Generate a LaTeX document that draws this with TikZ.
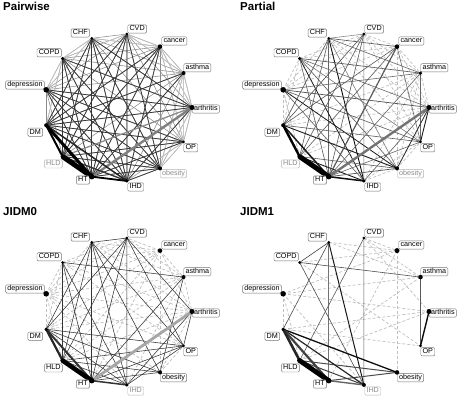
\documentclass[tikz,border=0pt]{standalone}
\usepackage{fontspec}
\setmainfont{Liberation Sans}
\usepackage{tikz}
\usetikzlibrary{calc}

\tikzset{
  dot/.style={circle, fill=black, inner sep=0pt, minimum size=#1},
  lab/.style={draw=black!55, line width=0.45pt, rounded corners=1.2pt, fill=white, font=\fontsize{7.2}{8}\selectfont, inner xsep=1.8pt, inner ysep=0.8pt, text height=5.2pt, text depth=1.4pt},
  labgray/.style={draw=black!30, text=black!45},
  ttl/.style={font=\fontsize{11.5}{13}\selectfont\bfseries, anchor=base west, inner sep=0pt},
  lnk/.style 2 args={draw=black!#1, line width=#2pt},
  neglink/.style={draw=black!25, line width=0.7pt, dash pattern=on 3pt off 2pt},
  % where each label sits next to its dot (same in all panels)
  l-art/.style={anchor=west, yshift=-1.5pt},
  l-ast/.style={anchor=south west, yshift=1pt},
  l-can/.style={anchor=south west, xshift=1.5pt, yshift=1.3pt},
  l-cvd/.style={anchor=south west, xshift=0.6pt, yshift=0.7pt},
  l-chf/.style={anchor=south east, xshift=-2pt, yshift=1pt},
  l-copd/.style={anchor=south east, xshift=-1pt, yshift=1.3pt},
  l-dep/.style={anchor=south east, xshift=-1.5pt, yshift=0.5pt},
  l-dm/.style={anchor=north east, xshift=-3.3pt, yshift=-2.7pt},
  l-hld/.style={anchor=north east, yshift=-3pt},
  l-ht/.style={anchor=north east, xshift=-2pt, yshift=1pt},
  l-ihd/.style={anchor=north west, xshift=0.6pt, yshift=-1.7pt},
  l-obe/.style={anchor=north west, yshift=-1pt},
  l-op/.style={anchor=north west, yshift=-1.6pt},
  % faded labels
  pw-hld/.style={labgray}, pw-obe/.style={labgray},
  pa-hld/.style={labgray}, pa-obe/.style={labgray},
  j0-ihd/.style={labgray}, j1-ihd/.style={labgray},
}

\begin{document}
\begin{tikzpicture}[x=1pt, y=1pt]
\useasboundingbox (0,0) rectangle (474,402);
% Panel titles
\node[ttl] (t-pw) at (3,391.3) {Pairwise};
\node[ttl] (t-pa) at (240,391.3) {Partial};
\node[ttl] (t-j0) at (3,186) {JIDM0};
\node[ttl] (t-j1) at (240,186) {JIDM1};
% Positions on the circle
\foreach \p/\cx/\cy in {pw/118/294.5, pa/355/294.5, j0/118/90.5, j1/355/90.5}{
  \foreach \n/\k in {art/0, ast/1, can/2, cvd/3, chf/4, copd/5, dep/6, dm/7, hld/8, ht/9, ihd/10, obe/11, op/12}
    \coordinate (\p-\n) at ($(\cx,\cy)+(\k*360/13:74)$);
}

% Pairwise: every pair is linked
\foreach \a [count=\i] in {art,ast,can,cvd,chf,copd,dep,dm,hld,ht,ihd,obe,op}
  \foreach \b [count=\j] in {art,ast,can,cvd,chf,copd,dep,dm,hld,ht,ihd,obe,op}
    {\ifnum\j>\i \draw[lnk={45}{0.55}] (pw-\a) -- (pw-\b); \fi}
\foreach \a/\b in {art/ast, ast/can, can/cvd, chf/copd, copd/dep, obe/op, op/art, ast/op, art/can, ast/cvd, can/chf, chf/dep, copd/dm, op/ihd, ast/obe, cvd/copd, art/obe, can/op}
  \draw[lnk={22}{0.5}] (pw-\a) -- (pw-\b);
\foreach \a/\b in {chf/dm, chf/hld, chf/ht, chf/ihd, chf/obe, cvd/dm, cvd/hld, cvd/ht, cvd/ihd, copd/ht, copd/ihd, copd/hld, copd/obe, dep/obe, dep/ihd, dep/ht, dep/art, dm/obe, dm/art, dm/op, hld/obe, hld/op, ht/obe, ht/op, can/dm, can/ht, can/hld, can/ihd, ast/dm, ast/ht, art/ihd, ihd/obe, chf/art, cvd/obe, copd/art, dep/op}
  \draw[lnk={78}{0.75}] (pw-\a) -- (pw-\b);
\foreach \a/\b/\c/\w in {art/hld/45/1.2, art/ht/50/2.4, hld/ihd/80/1.3, dm/ihd/85/1.5, ht/ihd/100/1.8, dm/hld/100/2, dm/ht/100/3, hld/ht/100/5}
  \draw[lnk={\c}{\w}] (pw-\a) -- (pw-\b);

% Partial
\foreach \a/\b in {dep/dm, dep/hld, dep/copd, dep/chf, copd/dm, dm/ast, dm/art, hld/art, hld/ast, dep/can, dep/cvd, copd/can, copd/cvd, can/ast, can/art, cvd/ast, cvd/can, cvd/art, cvd/op, chf/art, chf/op, ast/art, ast/obe, ihd/op, ihd/ast, ihd/obe, obe/op, can/obe, dm/chf, hld/dep}
  \draw[neglink] (pa-\a) -- (pa-\b);
\foreach \a/\b/\c/\w in {chf/cvd/50/.55, chf/can/65/.65, chf/ast/60/.6, chf/ht/60/.6, chf/ihd/95/.9, chf/dm/65/.6, chf/hld/65/.6, chf/obe/55/.55, copd/ast/65/.65, copd/art/60/.6, copd/ihd/90/.8, copd/ht/65/.6, copd/obe/65/.6, copd/op/55/.55, dep/ast/60/.6, dep/art/65/.75, dep/op/65/.6, dep/obe/90/.8, dep/ihd/65/.6, dm/obe/90/.9, dm/cvd/70/.6, dm/can/65/.6, dm/op/65/.6, hld/ihd/90/.9, hld/obe/65/.6, hld/can/65/.6, hld/cvd/65/.6, ht/cvd/65/.6, ht/obe/65/.75, ht/op/60/.6, ihd/cvd/55/.6, ihd/art/65/.6, can/op/60/.6, ast/op/60/.6, ast/ht/60/.6, art/op/90/.9, art/obe/85/.8, ht/can/65/1.2, ht/ihd/95/1.5, art/ht/55/2.4, dm/ht/90/1.5, dm/hld/100/2.4, hld/ht/100/5}
  \draw[lnk={\c}{\w}] (pa-\a) -- (pa-\b);

% JIDM0
\foreach \a/\b in {can/cvd, can/chf, can/copd, can/dep, can/dm, can/hld, can/art, can/ast, can/obe, can/ht, dep/copd, dep/chf, dep/dm, dep/ast, dep/art, dep/op, dep/hld, dep/ihd, dep/cvd, dep/obe, ast/art, copd/dm, copd/cvd, copd/art, chf/art, chf/ast, dm/art, hld/art, hld/ast, ast/cvd, obe/op, obe/art, ihd/ast, dm/ast, copd/op}
  \draw[neglink] (j0-\a) -- (j0-\b);
\foreach \a/\b in {chf/cvd, chf/dm, chf/hld, chf/ht, chf/ihd, chf/op, chf/obe, copd/ast, copd/hld, copd/ht, copd/ihd, cvd/dm, cvd/hld, cvd/ht, cvd/ihd, cvd/art, cvd/op, ast/obe, ast/ht, art/op, dm/ihd, dm/obe, dm/op, hld/ihd, hld/obe, hld/op, ht/obe, ht/op, ihd/op, ihd/art}
  \draw[lnk={80}{0.55}] (j0-\a) -- (j0-\b);
\foreach \a/\b/\c/\w in {art/ht/35/2.8, ht/ihd/80/1.5, dm/ht/80/2, dm/hld/85/2.2, hld/ht/100/4.6}
  \draw[lnk={\c}{\w}] (j0-\a) -- (j0-\b);

% JIDM1
\foreach \a/\b in {chf/can, copd/can, dep/can, dep/ast, dm/art, dm/op, can/obe, cvd/ast, cvd/can, can/ht, dep/hld, dep/dm, dep/art, hld/art, chf/ast, ast/hld, cvd/art, copd/op, dep/ihd}
  \draw[neglink] (j1-\a) -- (j1-\b);
\foreach \a/\b/\c/\w in {chf/copd/75/.6, chf/dm/70/.6, chf/ht/55/.6, chf/ihd/90/1, copd/ast/70/.6, copd/ihd/70/.6, cvd/ihd/65/.6, cvd/hld/65/.6, ast/op/65/.6, art/op/95/1.4, hld/obe/70/1, ht/obe/70/1, hld/ihd/75/1, ht/ihd/60/1.4, dm/obe/95/1.3, dm/ihd/85/1.2, dm/ht/75/2.2, dm/hld/85/2.6, hld/ht/100/4.8}
  \draw[lnk={\c}{\w}] (j1-\a) -- (j1-\b);

% Labels
\foreach \p in {pw,pa,j0,j1}{
  \foreach \n/\t in {art/arthritis, ast/asthma, can/cancer, cvd/CVD, chf/CHF, copd/COPD, dep/depression, dm/DM, hld/HLD, ht/HT, ihd/IHD, obe/obesity, op/OP}
    \node[lab, l-\n, \p-\n/.try] (\p-\n-lab) at (\p-\n) {\t};
}

% Dots
\foreach \n/\s in {art/5, ast/4, can/4.5, cvd/3, chf/3, copd/3.5, dep/5.5, dm/4, hld/4, ht/5.5, ihd/3.5, obe/4, op/3}
  \node[dot=\s pt] (pw-\n-dot) at (pw-\n) {};
\foreach \n/\s in {art/5, ast/3.5, can/4.5, cvd/3, chf/3, copd/3.5, dep/5.5, dm/4, hld/4.5, ht/5.5, ihd/3.5, obe/4, op/3}
  \node[dot=\s pt] (pa-\n-dot) at (pa-\n) {};
\foreach \n/\s in {art/5, ast/4, can/4.5, cvd/3, chf/3, copd/3, dep/5.5, dm/3.5, hld/4.5, ht/5.5, ihd/3.5, obe/4, op/3}
  \node[dot=\s pt] (j0-\n-dot) at (j0-\n) {};
\foreach \n/\s in {art/5, ast/4.5, can/5, cvd/3, chf/3, copd/3, dep/5.5, dm/3.5, hld/5, ht/5.5, ihd/4, obe/4.5, op/3}
  \node[dot=\s pt] (j1-\n-dot) at (j1-\n) {};
\end{tikzpicture}
\end{document}
